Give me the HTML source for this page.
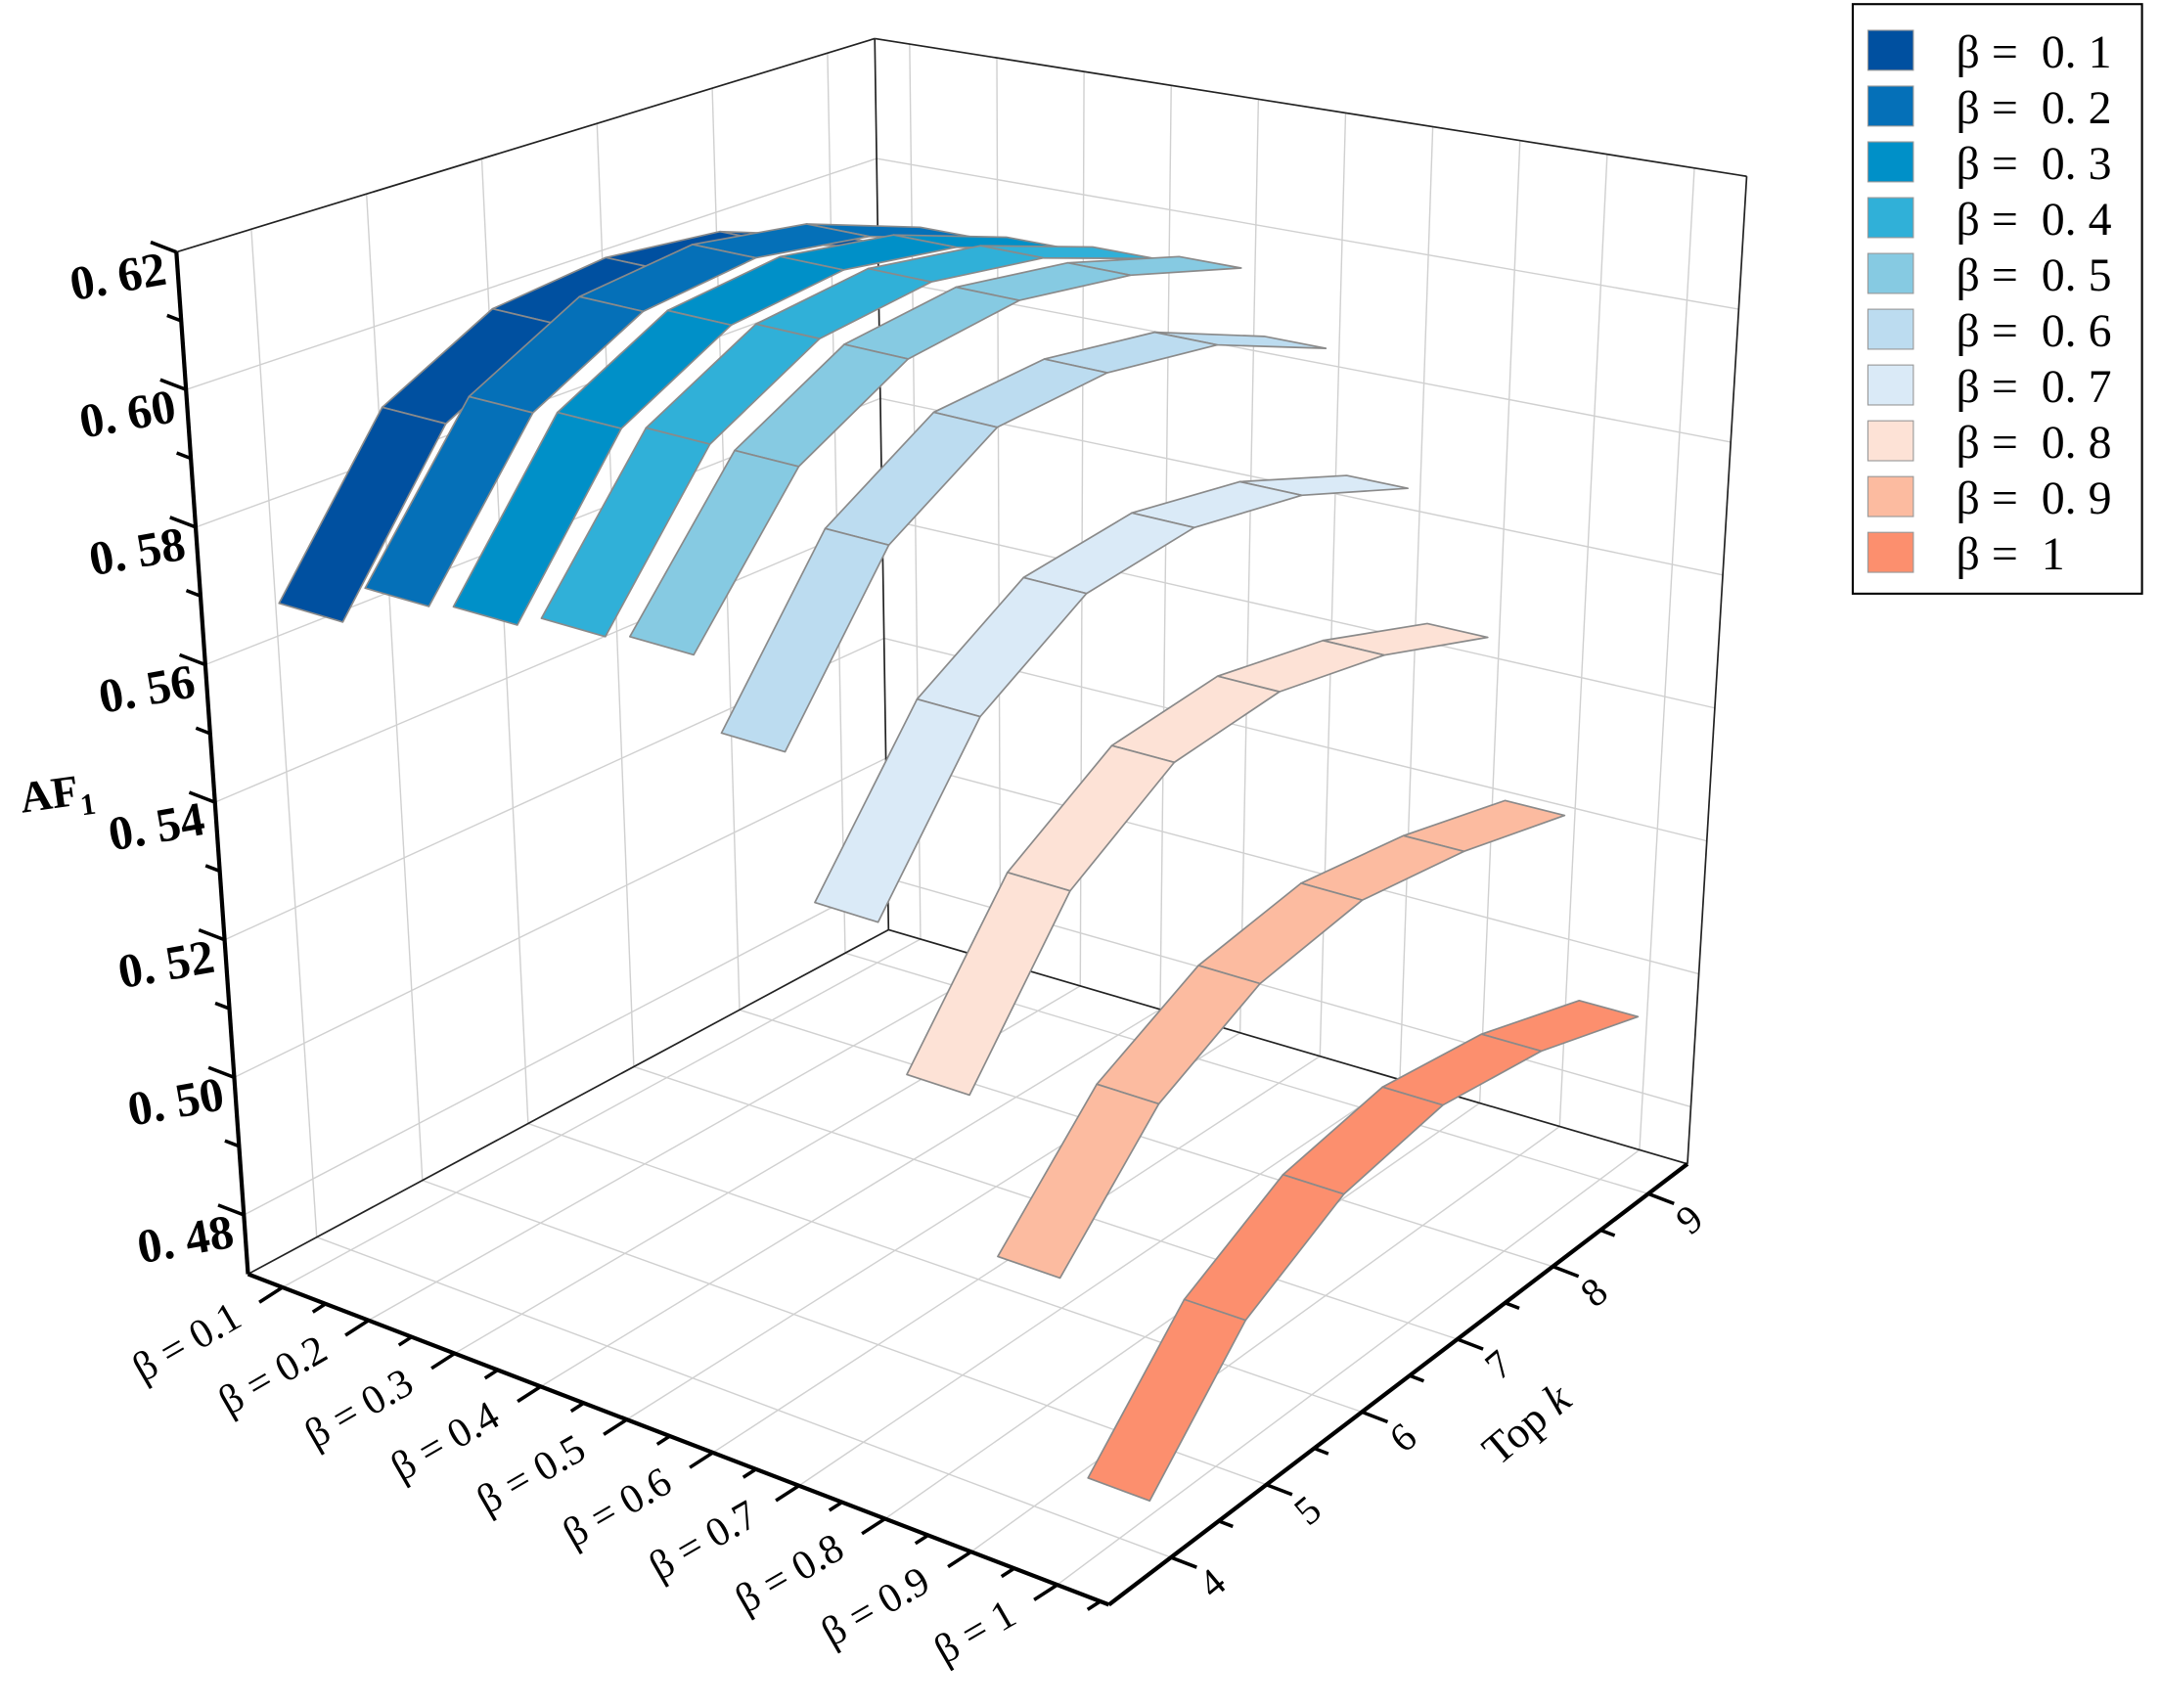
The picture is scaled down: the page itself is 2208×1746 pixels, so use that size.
<!DOCTYPE html>
<html><head><meta charset="utf-8"><style>
html,body{margin:0;padding:0;background:#fff;}
svg{display:block;}
text{font-family:"Liberation Serif",serif;fill:#000;}
</style></head><body>
<svg id="chart" xmlns="http://www.w3.org/2000/svg" width="2208" height="1746" viewBox="0 0 1568 1240">
<g id="walls"></g>
<g id="axes"></g>
<g id="ribbons"></g>
<g id="legend"></g>
</svg>
<script>
const betaLabels = ["0.1","0.2","0.3","0.4","0.5","0.6","0.7","0.8","0.9","1"];
const legendLabels = ["0. 1","0. 2","0. 3","0. 4","0. 5","0. 6","0. 7","0. 8","0. 9","1"];
const kValues = [4,5,6,7,8,9];
const zTicks = [0.48,0.50,0.52,0.54,0.56,0.58,0.60,0.62];
const zTickLabels = ["0. 48","0. 50","0. 52","0. 54","0. 56","0. 58","0. 60","0. 62"];
const s01 = [0.565,0.588,0.597,0.599,0.597,0.590];
const s02 = [0.571,0.593,0.602,0.604,0.601,0.594];
const s03 = [0.572,0.594,0.603,0.605,0.602,0.595];
const s04 = [0.574,0.595,0.604,0.606,0.603,0.596];
const s05 = [0.575,0.595,0.604,0.606,0.603,0.597];
const s06 = [0.565,0.587,0.597,0.598,0.595,0.587];
const s07 = [0.545,0.566,0.576,0.578,0.575,0.568];
const s08 = [0.525,0.545,0.555,0.557,0.554,0.548];
const s09 = [0.504,0.519,0.527,0.530,0.528,0.524];
const s10 = [0.478,0.493,0.501,0.504,0.502,0.497];
const series = [s01,s02,s03,s04,s05,s06,s07,s08,s09,s10];
const colors = ["#0050a0","#0570b8","#0090c8","#30b0d8","#86cae2","#bcdcf0","#daeaf7","#fde2d6","#fcbba0","#fc8f6e"];

const ZMIN=0.4714, ZMAX=0.62;
const FA=[180,925],FB=[805,1165],FC=[1225,845],FD=[645,675];
const VA=[-52,-742],VB=[-19,-812],VC=[43,-717],VD=[-10,-647];
function bil(a,b,c,d,tb,tk){
  return [a[0]*(1-tb)*(1-tk)+b[0]*tb*(1-tk)+c[0]*tb*tk+d[0]*(1-tb)*tk,
          a[1]*(1-tb)*(1-tk)+b[1]*tb*(1-tk)+c[1]*tb*tk+d[1]*(1-tb)*tk];
}
function tbOf(bi){return (bi+0.4)/10;}
function tkOf(k){return (k-3.35)/6.06;}
function projT(tb,tk,z){
  const f=bil(FA,FB,FC,FD,tb,tk), v=bil(VA,VB,VC,VD,tb,tk);
  const fr=(z-ZMIN)/(ZMAX-ZMIN);
  return [f[0]+v[0]*fr,f[1]+v[1]*fr];
}
function proj(bi,k,z){return projT(tbOf(bi),tkOf(k),z);}
const NS="http://www.w3.org/2000/svg";
function el(tag,parent){const e=document.createElementNS(NS,tag);parent.appendChild(e);return e;}
function line(parent,p,q,stroke,w){
  const l=el("line",parent);
  l.setAttribute("x1",p[0]);l.setAttribute("y1",p[1]);l.setAttribute("x2",q[0]);l.setAttribute("y2",q[1]);
  l.setAttribute("stroke",stroke);l.setAttribute("stroke-width",w);
  return l;
}
const walls=document.getElementById("walls");
const axes=document.getElementById("axes");
const GC="#d0d0d0";
zTicks.forEach((z)=>{
  let g=line(walls,projT(0,0,z),projT(0,1,z),GC,1);
  
  
  g=line(walls,projT(0,1,z),projT(1,1,z),GC,1);
  
  
});
kValues.forEach((k)=>{
  let g=line(walls,projT(0,tkOf(k),ZMIN),projT(0,tkOf(k),ZMAX),GC,1);
  
  
  g=line(walls,projT(0,tkOf(k),ZMIN),projT(1,tkOf(k),ZMIN),GC,1);
  
  
});
betaLabels.forEach((b,i)=>{
  let g=line(walls,projT(tbOf(i),1,ZMIN),projT(tbOf(i),1,ZMAX),GC,1);
  
  
  g=line(walls,projT(tbOf(i),0,ZMIN),projT(tbOf(i),1,ZMIN),GC,1);
  
  
});
[[[0,0,ZMAX],[0,1,ZMAX]],[[0,1,ZMAX],[1,1,ZMAX]],[[0,1,ZMIN],[0,1,ZMAX]],[[1,1,ZMIN],[1,1,ZMAX]],[[0,0,ZMIN],[0,1,ZMIN]],[[0,1,ZMIN],[1,1,ZMIN]]].forEach(s=>{
  const f=line(walls,projT(...s[0]),projT(...s[1]),"#222",1.2);
  
  
});
const rib=document.getElementById("ribbons");
const W=0.36;
series.forEach((vals,i)=>{
  const g=el("g",rib);
  
  
  for(let j=vals.length-2;j>=0;j--){
    const p1=proj(i-W,kValues[j],vals[j]),p2=proj(i+W,kValues[j],vals[j]),
          p3=proj(i+W,kValues[j+1],vals[j+1]),p4=proj(i-W,kValues[j+1],vals[j+1]);
    const poly=el("polygon",g);
    poly.setAttribute("points",[p1,p2,p3,p4].map(p=>p[0].toFixed(1)+","+p[1].toFixed(1)).join(" "));
    poly.setAttribute("fill",colors[i]);
    poly.setAttribute("stroke","#8a8a8a");
    poly.setAttribute("stroke-width","1.2");
    poly.setAttribute("stroke-linejoin","round");
    
    
  }
});
let ax=line(axes,projT(0,0,ZMIN),projT(0,0,ZMAX),"#000",3);


ax=line(axes,projT(0,0,ZMIN),projT(1,0,ZMIN),"#000",3);


ax=line(axes,projT(1,0,ZMIN),projT(1,1,ZMIN),"#000",3);


function txt(parent,x,y,str,size,anchor,rot){
  const t=el("text",parent);
  t.setAttribute("x",x);t.setAttribute("y",y);t.setAttribute("font-size",size);
  t.setAttribute("text-anchor",anchor);
  t.setAttribute("transform","rotate("+rot+" "+x+" "+y+")");
  t.textContent=str;return t;
}
for(let m=0;m<=14;m++){
  const z=0.48+m*0.01;const p=projT(0,0,z);const L=(m%2===0)?20:11;
  const tk=line(axes,p,[p[0]-0.934*L,p[1]-0.359*L],"#000",2.5);
  
  
}
zTicks.forEach((z,i)=>{
  const p=projT(0,0,z);
  const t=txt(axes,p[0]-6,p[1]+23,zTickLabels[i],35,"end",-10);
  t.setAttribute("font-weight","bold");
  
  
});
for(let m=0;m<=19;m++){
  const bi=m/2;const p=projT(tbOf(bi),0,ZMIN);const L=(m%2===0)?20:11;
  if(tbOf(bi)>1)continue;
  const tk=line(axes,p,[p[0]-0.84*L,p[1]+0.542*L],"#000",2.5);
  
  
}
betaLabels.forEach((b,i)=>{
  const p=projT(tbOf(i),0,ZMIN);
  const t=txt(axes,p[0]-28,p[1]+27,"β = "+b,30,"end",-30);
  
  
});
for(let m=0;m<=11;m++){
  const k=4+m*0.5;if(k>9.4)continue;const p=projT(1,tkOf(k),ZMIN);const L=(m%2===0)?20:11;
  const tk=line(axes,p,[p[0]+0.934*L,p[1]+0.359*L],"#000",2.5);
  
  
}
kValues.forEach((k)=>{
  const p=projT(1,tkOf(k),ZMIN);
  const t=txt(axes,p[0]+36,p[1]+26,String(k),29,"middle",-40);
  
  
});
let tt=txt(axes,1115,1042,"Top ",32,"middle",-40);
const kk=el("tspan",tt);kk.setAttribute("font-style","italic");kk.textContent="k";


tt=txt(axes,16,590,"AF",32,"start",-8);
const sub=el("tspan",tt);sub.setAttribute("font-size","22");sub.setAttribute("dy","8");sub.textContent="1";
tt.setAttribute("font-weight","bold");


const lg=document.getElementById("legend");
const box=el("rect",lg);
box.setAttribute("x",1345);box.setAttribute("y",3);box.setAttribute("width",210);box.setAttribute("height",428);
box.setAttribute("fill","#fff");box.setAttribute("stroke","#000");box.setAttribute("stroke-width","1.5");


legendLabels.forEach((lab,i)=>{
  const y=22+40.5*i;
  const sw=el("rect",lg);
  sw.setAttribute("x",1356);sw.setAttribute("y",y);sw.setAttribute("width",33);sw.setAttribute("height",29);
  sw.setAttribute("fill",colors[i]);sw.setAttribute("stroke","#999");sw.setAttribute("stroke-width","0.8");
  
  
  const t=txt(lg,1420,y+27,"β =  "+lab,34,"start",0);
  t.setAttribute("xml:space","preserve");
  t.style.whiteSpace="pre";
  
  
});
</script>
</body></html>
